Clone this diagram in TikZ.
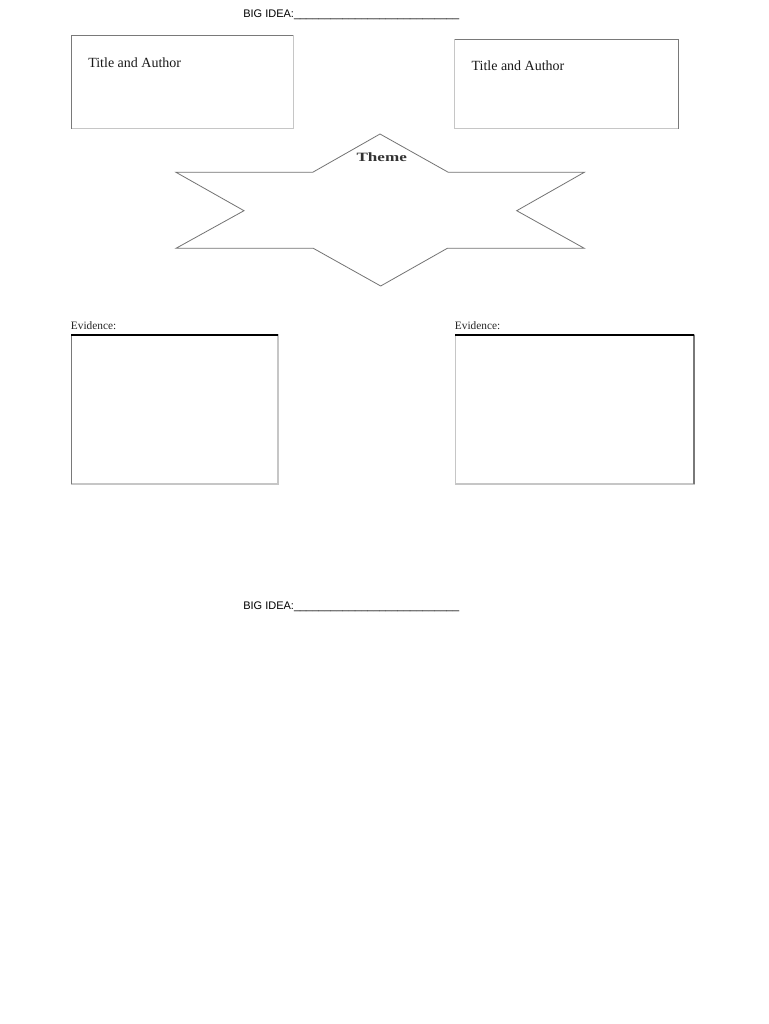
\documentclass[tikz,border=0pt]{standalone}
\usepackage{fontspec}
\setmainfont{Liberation Serif}
\newfontfamily\arialfont{Liberation Sans}
\begin{document}
\begin{tikzpicture}[x=0.75pt,y=-0.75pt,
  panel/.style={draw=gray!45,line width=0.8pt,inner sep=0pt,outer sep=0pt},
  darkedge/.style={draw=gray!95!black,line width=0.8pt},
  blackedge/.style={draw=black,line width=1.1pt},
  bigidea/.style={font=\arialfont\fontsize{8.25}{10}\selectfont,anchor=base west,inner sep=0pt},
  boxlabel/.style={font=\fontsize{10.5}{12}\selectfont,anchor=base west,inner sep=0pt,text=black!90},
  evlabel/.style={font=\fontsize{8.5}{10}\selectfont,anchor=base west,inner sep=0pt,text=black!85},
  starline/.style={draw=gray!90!black,line width=0.6pt,line join=miter}]
\useasboundingbox (0,0) rectangle (768,1024);
\fill[white] (0,0) rectangle (768,1024);

% BIG IDEA lines
\node[bigidea] (big1) at (243,17.3) {BIG IDEA:\_\_\_\_\_\_\_\_\_\_\_\_\_\_\_\_\_\_\_\_\_\_\_\_\_\_\_};
\node[bigidea] (big2) at (243,609.5) {BIG IDEA:\_\_\_\_\_\_\_\_\_\_\_\_\_\_\_\_\_\_\_\_\_\_\_\_\_\_\_};

% Title and Author boxes
\node[panel,minimum width=166.5pt,minimum height=69.75pt] (ta1) at (182.3,82.2) {};
\draw[darkedge] (ta1.south west) -- (ta1.north west) -- (ta1.north east);
\node[boxlabel] (ta1t) at (88,67.3) {Title and Author};

\node[panel,minimum width=167.7pt,minimum height=66.75pt] (ta2) at (566.5,84.2) {};
\draw[darkedge] (ta2.north west) -- (ta2.north east) -- (ta2.south east);
\node[boxlabel] (ta2t) at (471.3,70) {Title and Author};

% Star
\draw[starline] (380,134) -- (448.3,172.3) -- (584.3,172.3) -- (516.7,210.7)
  -- (584.3,248.3) -- (447.3,248.3) -- (380.7,286) -- (313.3,248.3)
  -- (176,248.3) -- (244,210.7) -- (176,172.3) -- (312.7,172.3) -- cycle;
\node[font=\fontsize{9.5}{10}\selectfont\bfseries,xscale=1.35,inner sep=0pt,anchor=base,text=black!80] (theme) at (381.7,161) {Theme};

% Evidence boxes
\node[evlabel] (ev1l) at (70.7,329.3) {Evidence:};
\node[panel,minimum width=155pt,minimum height=111.75pt] (ev1) at (174.65,409.5) {};
\draw[darkedge] (ev1.south west) -- (ev1.north west);
\draw[blackedge] (ev1.north west) -- (ev1.north east);

\node[evlabel] (ev2l) at (454.7,329.3) {Evidence:};
\node[panel,minimum width=179pt,minimum height=111.75pt] (ev2) at (574.65,409.5) {};
\draw[darkedge] (ev2.north east) -- (ev2.south east);
\draw[blackedge] (ev2.north west) -- (ev2.north east);
\end{tikzpicture}
\end{document}
